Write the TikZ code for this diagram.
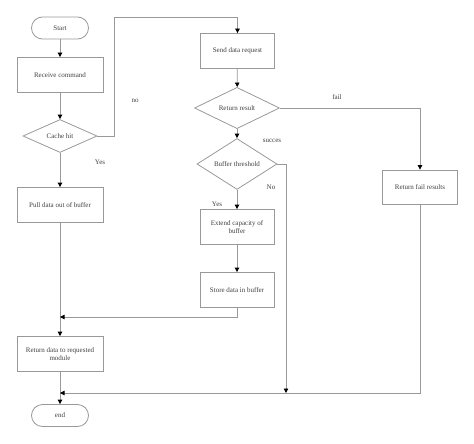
\documentclass[tikz,border=0pt]{standalone}
\usepackage{fontspec}
\setmainfont{Liberation Serif}
\usetikzlibrary{shapes.geometric,arrows.meta}

\tikzset{
    box/.style={draw=black!40, line width=0.8pt, minimum width=86pt, minimum height=35pt,
        inner sep=2pt, align=center, text=black!75},
    midbox/.style={box, minimum width=74pt},
    terminal/.style={draw=black!40, line width=0.8pt, rounded corners=11pt,
        minimum width=57pt, minimum height=22pt, inner sep=1pt, text=black!75},
    decision/.style={diamond, draw=black!40, line width=0.8pt, inner sep=0pt,
        text=black!75},
    flow/.style={draw=black!40, line width=0.8pt,
        -{Triangle[length=4.5pt,width=4.5pt,color=black]}},
    lbl/.style={text=black!75}
}

\begin{document}
\begin{tikzpicture}[x=1pt, y=-1pt, font=\fontsize{7}{8.5}\selectfont]
        \useasboundingbox (0,0) rectangle (474,444);
        % left column
        \node[terminal] (start) at (60,28) {Start};
        \node[box] (receive) at (60,75) {Receive command};
        \node[decision, minimum width=74pt, minimum height=33pt] (cachehit) at (60,136) {Cache hit};
        \node[box] (pull) at (60,205) {Pull data out of buffer};
        \node[box] (retdata) at (60,354) {Return data to requested\\module};
        \node[terminal] (end) at (60,415.5) {end};

        % middle column
        \node[midbox] (send) at (237.5,51) {Send data request};
        \node[decision, minimum width=85pt, minimum height=34pt] (retres) at (237,108) {Return result};
        \node[decision, minimum width=80pt, minimum height=35pt] (bufth) at (237,164) {Buffer threshold};
        \node[midbox] (extend) at (237,227) {Extend capacity of\\buffer};
        \node[midbox] (store) at (237,290) {Store data in buffer};

        % right column
        \node[box, minimum width=75pt, minimum height=34pt] (fail) at (420,187) {Return fail results};

        % corners and joins
        \coordinate (nocorner) at (114,17);
        \coordinate (join1) at (60,317);
        \coordinate (join2) at (60,393);
        \coordinate (join3) at (286,393);

        % connectors
        \draw[flow] (start) -- (receive);
        \draw[flow] (receive) -- (cachehit);
        \draw[flow] (cachehit) -- (pull);
        \draw[flow] (pull) -- (retdata);
        \draw[flow] (retdata) -- (end);
        \draw[flow] (cachehit.east) -| (nocorner) -| (send.north);
        \draw[flow] (send) -- (retres);
        \draw[flow] (retres) -- (bufth);
        \draw[flow] (bufth) -- (extend);
        \draw[flow] (extend) -- (store);
        \draw[flow] (store.south) |- (join1);
        \draw[flow] (retres.east) -| (fail.north);
        \draw[flow] (fail.south) |- (join2);
        \draw[flow] (bufth.east) -| (join3);

        % labels
        \node[lbl] (lno) at (135,101) {no};
        \node[lbl] (lyes) at (100,162) {Yes};
        \node[lbl] (lfail) at (337,97) {fail};
        \node[lbl] (lsucc) at (272,141) {succes};
        \node[lbl] (lNo) at (271,187) {No};
        \node[lbl] (lYes) at (217,204) {Yes};
\end{tikzpicture}
\end{document}
